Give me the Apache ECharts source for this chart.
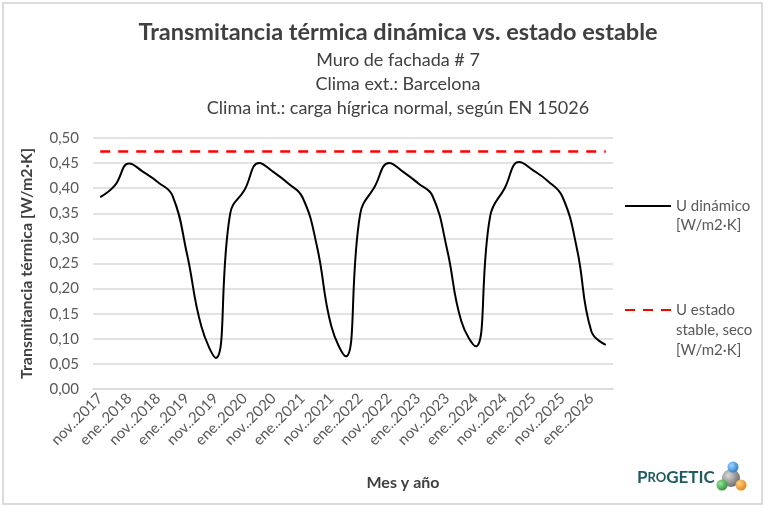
<!DOCTYPE html>
<html>
<head>
<meta charset="utf-8">
<script src="https://cdn.jsdelivr.net/npm/echarts@6/dist/echarts.min.js"></script>
<style>html,body{margin:0;padding:0;background:#fff;}#c{width:768px;height:509px;}</style>
</head>
<body>
<div id="c"></div>
<script>
// Tick labels shown on the x axis (every other data point)
var tickLabels = ['nov..2017','ene..2018','nov..2018','ene..2019','nov..2019','ene..2020','nov..2020','ene..2021','nov..2021','ene..2022','nov..2022','ene..2023','nov..2023','ene..2024','nov..2024','ene..2025','nov..2025','ene..2026'];
// Dynamic transmittance values (36 points)
var uDinamico = [0.382,0.405,0.449,0.432,0.412,0.385,0.270,0.125,0.062,0.350,0.397,0.450,0.432,0.410,0.382,0.285,0.125,0.065,0.349,0.403,0.450,0.432,0.410,0.385,0.280,0.135,0.085,0.345,0.400,0.452,0.435,0.414,0.383,0.280,0.115,0.088];
// Steady-state value
var uEstable = 0.473;

var categories = [];
tickLabels.forEach(function(l){ categories.push(l); categories.push(l + ' '); });
var estableSeries = uDinamico.map(function(){ return uEstable; });

var nameDin = 'U dinámico\n[W/m2·K]';
var nameEst = 'U estado\nstable, seco\n[W/m2·K]';
var FONT = 'Lato, Calibri, Carlito, sans-serif';

function padTop(name){
  var n = name.split('\n').length;
  var pre = '';
  for (var i = 1; i < n; i++) pre += ' \n';
  return pre + name;
}

var chart = echarts.init(document.getElementById('c'), null, {renderer:'canvas'});
chart.setOption({
  backgroundColor:'#fff',
  animation:false,
  textStyle:{fontFamily:FONT},
  title:[
    {text:'Transmitancia térmica dinámica vs. estado estable', left:393, top:15, textAlign:'center',
     textStyle:{fontFamily:FONT, fontSize:23.5, fontWeight:'bold', color:'#404040'}},
    {text:'Muro de fachada # 7\nClima ext.: Barcelona\nClima int.: carga hígrica normal, según EN 15026', left:393, top:43, textAlign:'center',
     textStyle:{fontFamily:FONT, fontSize:18, fontWeight:'normal', color:'#404040', lineHeight:24}},
    {text:'Mes y año', left:398, top:470, textAlign:'center',
     textStyle:{fontFamily:FONT, fontSize:16, fontWeight:'bold', color:'#404040'}}
  ],
  legend:[
    {left:624, top:177.5, padding:0, orient:'vertical', itemWidth:46, itemHeight:14, itemGap:5,
     data:[nameDin], formatter:padTop, itemStyle:{opacity:0},
     textStyle:{fontFamily:FONT, fontSize:15, color:'#595959', lineHeight:19}},
    {left:624, top:260, padding:0, orient:'vertical', itemWidth:46, itemHeight:14, itemGap:5,
     data:[nameEst], formatter:padTop, itemStyle:{opacity:0},
     textStyle:{fontFamily:FONT, fontSize:15, color:'#595959', lineHeight:20}}
  ],
  grid:{left:93, right:155, top:138, bottom:120, containLabel:false},
  xAxis:{
    type:'category', data:categories, boundaryGap:true,
    axisLine:{show:true, lineStyle:{color:'#d9d9d9', width:1.5}},
    axisTick:{show:false},
    axisLabel:{interval:1, rotate:45, fontFamily:FONT, fontSize:15, color:'#595959', margin:7}
  },
  yAxis:{
    type:'value', min:0, max:0.5, interval:0.05,
    name:'Transmitancia térmica [W/m2·K]', nameLocation:'middle', nameGap:58, nameRotate:90,
    nameTextStyle:{fontFamily:FONT, fontSize:16, fontWeight:'bold', color:'#404040'},
    axisLine:{show:false}, axisTick:{show:false},
    splitLine:{lineStyle:{color:'#d9d9d9', width:1.5}},
    axisLabel:{fontFamily:FONT, fontSize:15, color:'#595959', margin:14,
      formatter:function(v){ return v.toFixed(2).replace('.', ','); }}
  },
  series:[
    {name:nameDin, type:'line', data:uDinamico, smooth:0.45, showSymbol:false, symbol:'none',
     lineStyle:{color:'#000', width:2}, itemStyle:{color:'#000'}},
    {name:nameEst, type:'line', data:estableSeries, showSymbol:false, symbol:'none',
     lineStyle:{color:'#ff0000', width:2.5, type:[10,8]}, itemStyle:{color:'#ff0000'}}
  ],
  graphic:[
    {type:'rect', shape:{x:3, y:3, width:759, height:501}, style:{fill:'none', stroke:'#d0d0d0', lineWidth:1.5}, silent:true},
    {type:'text', left:637, top:469, style:{
      text:'{a|P}{b|RO}{a|GETIC}',
      rich:{a:{fontFamily:FONT, fontSize:17, fontWeight:'bold', fill:'#1e5b62'}, b:{fontFamily:FONT, fontSize:13, fontWeight:'bold', fill:'#1e5b62'}}
    }},
    {type:'circle', shape:{cx:731, cy:478, r:9}, style:{fill:new echarts.graphic.RadialGradient(0.35,0.35,0.8,[{offset:0,color:'#d8d8d8'},{offset:1,color:'#5a5a5a'}])}},
    {type:'circle', shape:{cx:733, cy:467, r:5.5}, style:{fill:new echarts.graphic.RadialGradient(0.35,0.35,0.8,[{offset:0,color:'#9fd4ff'},{offset:1,color:'#1a73c9'}])}},
    {type:'circle', shape:{cx:722, cy:485, r:5.5}, style:{fill:new echarts.graphic.RadialGradient(0.35,0.35,0.8,[{offset:0,color:'#9be39b'},{offset:1,color:'#1f8a2a'}])}},
    {type:'circle', shape:{cx:741, cy:485, r:5.5}, style:{fill:new echarts.graphic.RadialGradient(0.35,0.35,0.8,[{offset:0,color:'#ffd28a'},{offset:1,color:'#e07a00'}])}}
  ]
});
</script>
</body>
</html>
